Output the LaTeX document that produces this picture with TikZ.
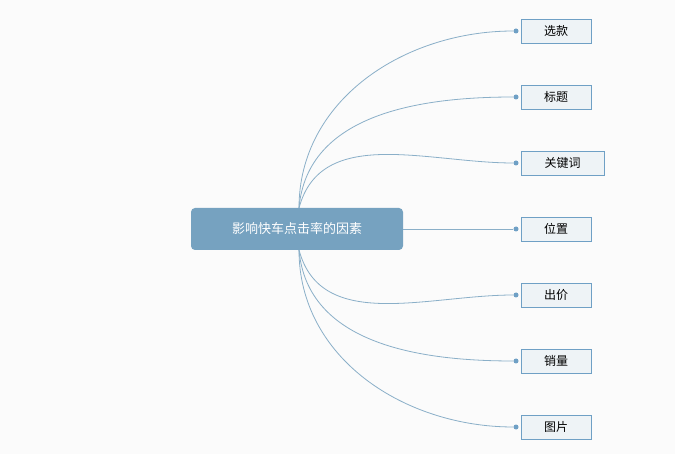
\documentclass[tikz,border=0pt]{standalone}
\usepackage{fontspec}
\setmainfont{Noto Sans CJK SC}
\usetikzlibrary{positioning}
\definecolor{rootfill}{HTML}{76A2C0}
\definecolor{leaffill}{HTML}{EEF3F6}
\definecolor{leafline}{HTML}{6FA0C5}
\definecolor{linkc}{HTML}{8AAFC8}
\tikzset{
  root/.style={fill=rootfill, rounded corners=4pt, text=white, minimum width=212pt, minimum height=42pt, font=\fontsize{13}{15}\selectfont},
  leaf/.style={draw=leafline, fill=leaffill, minimum height=24pt, anchor=west, font=\fontsize{12}{14}\selectfont, inner xsep=0pt},
  link/.style={linkc, line width=0.8pt},
  knob/.style={circle, fill=leafline, inner sep=0pt, minimum size=5pt}
}
\begin{document}
\begin{tikzpicture}[x=1pt,y=1pt]
\useasboundingbox[fill={rgb,255:red,251;green,251;blue,251}] (0,0) rectangle (675,-454);

\node[root] (top) at (297,-229) {影响快车点击率的因素};
\coordinate (up) at (299,-208);
\coordinate (dn) at (299,-250);

% branches
\foreach \name/\txt/\y/\w in {xk/选款/31/70, bt/标题/97/70, gjc/关键词/163/83, wz/位置/229/70, cj/出价/295/70, xl/销量/361/70, tp/图片/427/70}{
  \node[leaf, minimum width=\w pt] (\name) at (521,-\y) {\txt};
  \node[knob] (\name d) at (516,-\y) {};
}

\draw[link] (up) to[out=90,in=180] (xkd);
\draw[link] (up) to[out=85,in=180] (btd);
\draw[link] (up) to[out=75,in=180] (gjcd);
\draw[link] (top.east) -- (wzd);
\draw[link] (dn) to[out=-75,in=180] (cjd);
\draw[link] (dn) to[out=-85,in=180] (xld);
\draw[link] (dn) to[out=-90,in=180] (tpd);
\end{tikzpicture}
\end{document}
